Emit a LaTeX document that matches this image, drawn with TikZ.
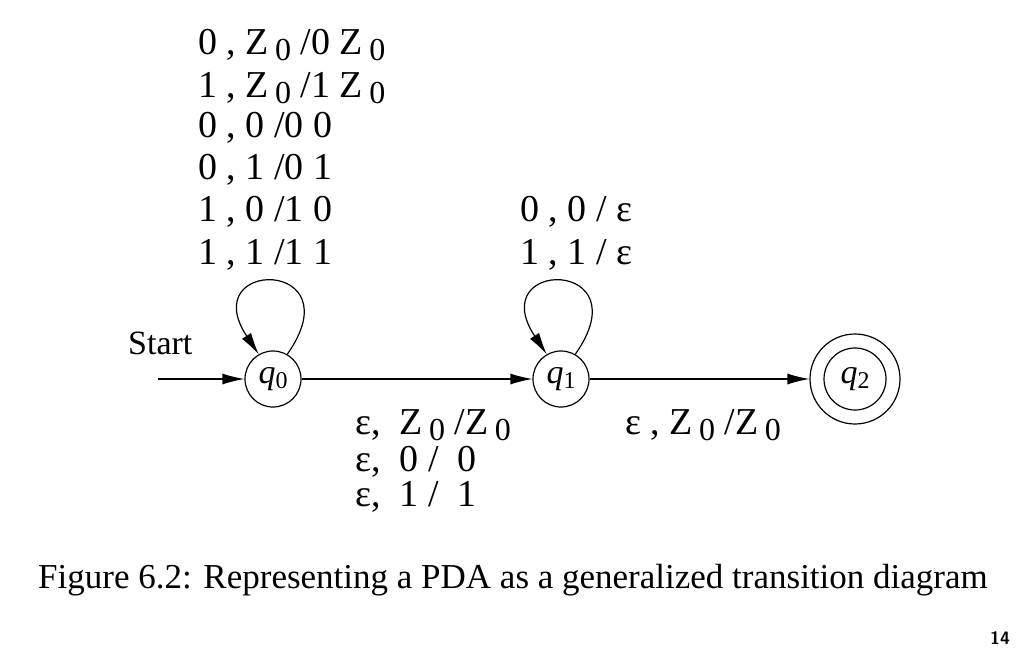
\documentclass[tikz,border=0pt]{standalone}
\usepackage{fontspec}
\setmainfont{Liberation Serif}
\usetikzlibrary{arrows.meta}
\newcommand{\Zs}{Z\,\raisebox{-0.35ex}{\fontsize{32}{32}\selectfont 0}}
\newcommand{\qs}[1]{\textit{q}\raisebox{-0.35ex}{\fontsize{24}{24}\selectfont #1}}
\begin{document}
\begin{tikzpicture}[x=1pt,y=-1pt,
  st/.style={draw,circle,minimum size=56pt,inner sep=0pt,font=\fontsize{34}{34}\selectfont,line width=1.2pt},
  lbl/.style={font=\fontsize{38}{42}\selectfont,anchor=west,inner sep=0pt},
  ar/.style={-{Latex[length=22pt,width=11pt]},line width=1.2pt}]
\useasboundingbox (0,0) rectangle (1024,666);
\node[st] (q0) at (273,379) {\qs{0}};
\node[st] (q1) at (561,379) {\qs{1}};
\node[st,minimum size=90pt] (q2) at (855,379) {};
\node[st,minimum size=62pt] (q2i) at (855,379) {\qs{2}};
\coordinate (s) at (158,379);
\node[font=\fontsize{34}{34}\selectfont,anchor=west,inner sep=0pt] (start) at (128,343) {Start};
\draw[ar] (s) -- (q0);
\draw[ar] (q0) -- (q1);
\draw[ar] (q1) -- (q2);
\draw[ar] (q0.60) .. controls (355,258) and (195,258) .. (q0.120);
\draw[ar] (q1.60) .. controls (643,258) and (483,258) .. (q1.120);
\node[lbl] (l1) at (198,45) {0 , \Zs\ /0 \Zs};
\node[lbl] (l2) at (198,88) {1 , \Zs\ /1 \Zs};
\node[lbl] (l3) at (198,128) {0 , 0 /0 0};
\node[lbl] (l4) at (198,170) {0 , 1 /0 1};
\node[lbl] (l5) at (198,212) {1 , 0 /1 0};
\node[lbl] (l6) at (198,255) {1 , 1 /1 1};
\node[lbl] (r1) at (520,212) {0 , 0 / ε};
\node[lbl] (r2) at (520,255) {1 , 1 / ε};
\node[lbl] (b1) at (355,425) {ε, \ \Zs\ /\Zs};
\node[lbl] (b2) at (355,462) {ε, \ 0 / \ 0};
\node[lbl] (b3) at (355,497) {ε, \ 1 / \ 1};
\node[lbl] (c1) at (625,425) {ε , \Zs\ /\Zs};
\node[font=\fontsize{35}{35}\selectfont,inner sep=0pt] (cap) at (513,580) {Figure 6.2: Representing a PDA as a generalized transition diagram};
\node[font=\fontsize{18}{18}\selectfont\sffamily\bfseries,inner sep=0pt] (pg) at (1000,638) {14};
\end{tikzpicture}
\end{document}
